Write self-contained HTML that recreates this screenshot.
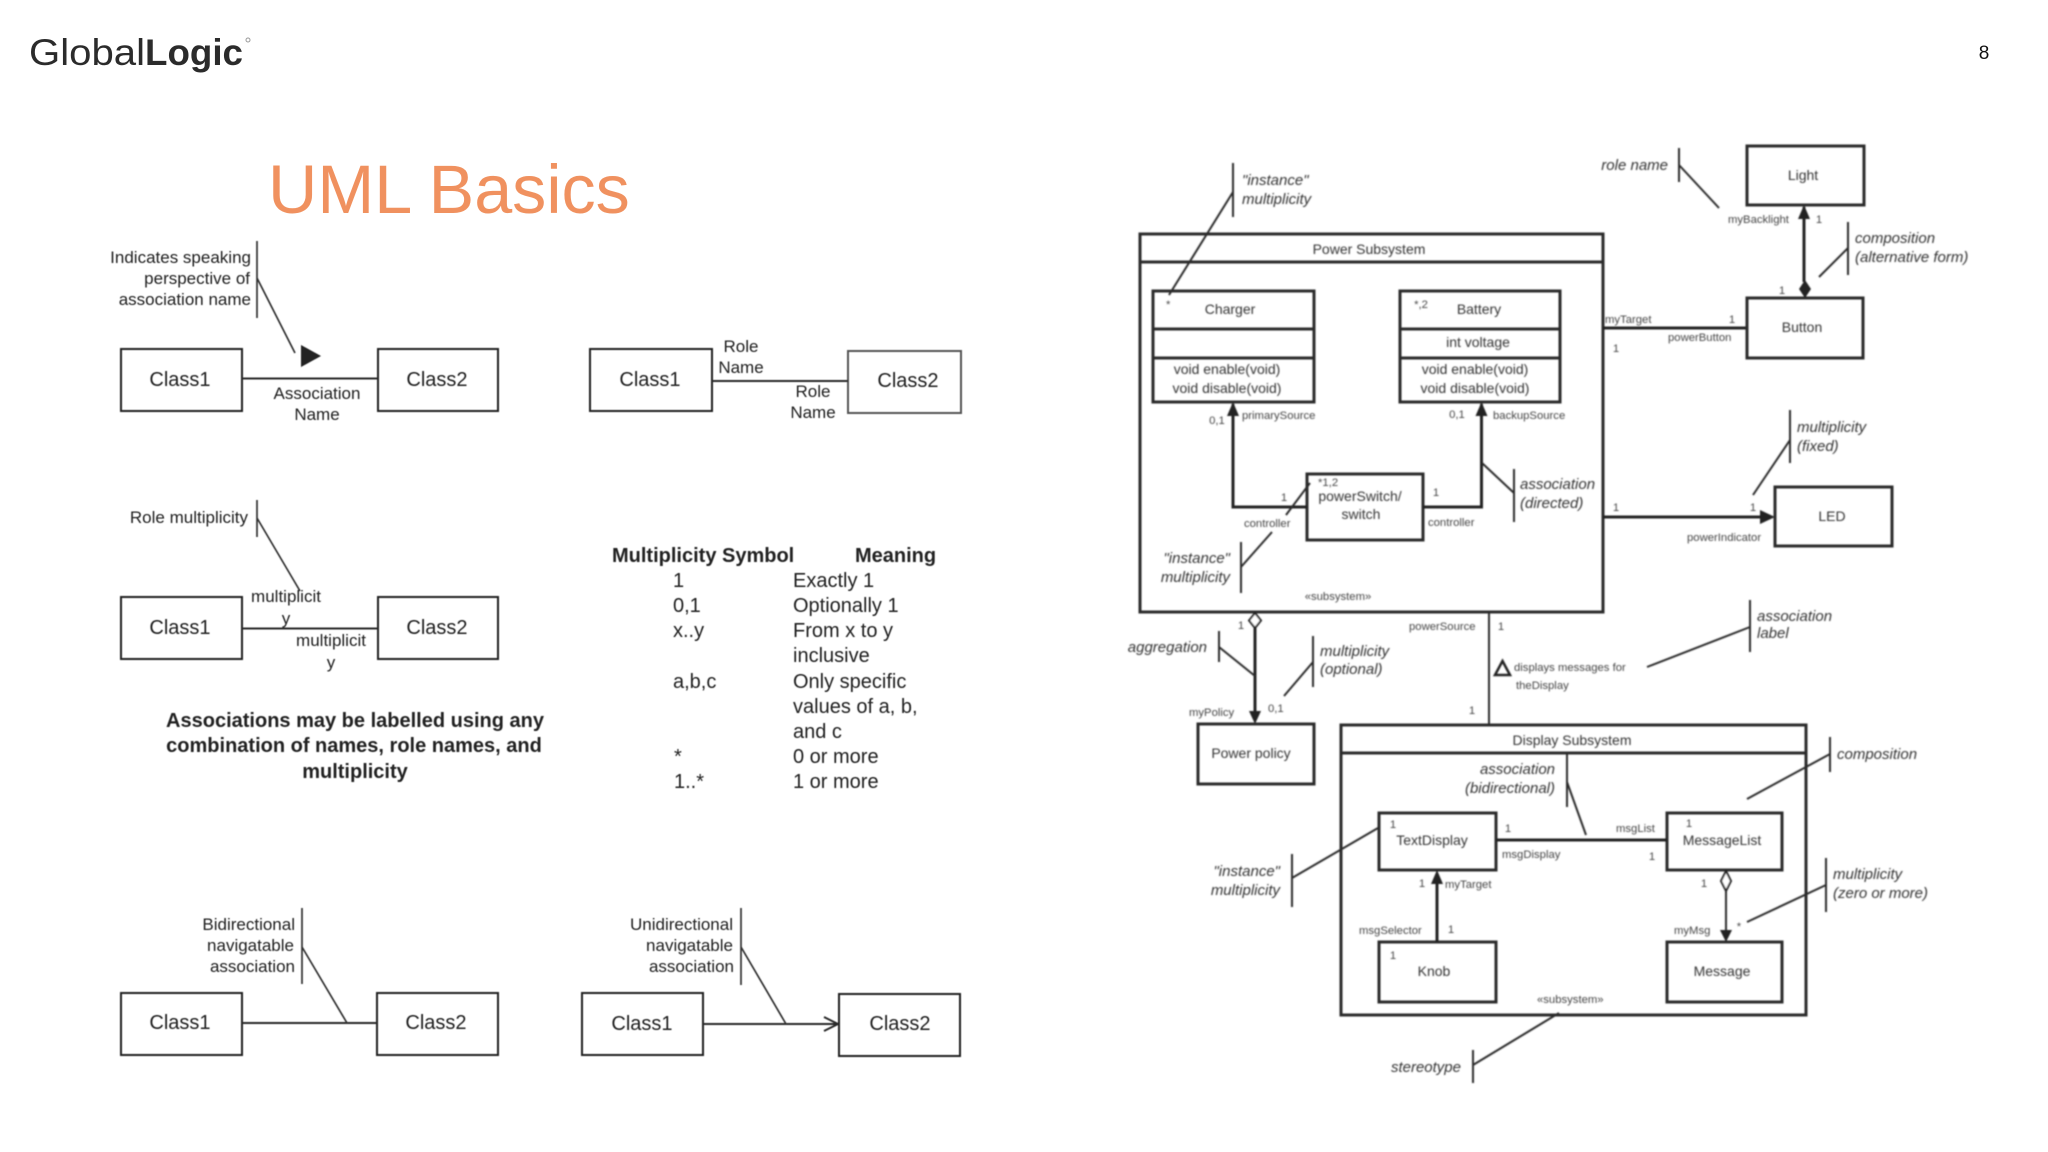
<!DOCTYPE html>
<html lang="en">
<head>
<meta charset="utf-8">
<title>UML Basics</title>
<style>
html,body{margin:0;padding:0;background:#fff;width:2048px;height:1152px;overflow:hidden}
svg{display:block}
text{font-family:"Liberation Sans",sans-serif;fill:#222}
.m{text-anchor:middle}.e{text-anchor:end}
.a{font-size:17px}.c{font-size:20px}.b{font-size:20px;font-weight:bold}
.n{font-size:14px;fill:#333}.s{font-size:11.3px;fill:#444}.i{font-size:15px;font-style:italic;fill:#333}
.bx{fill:none;stroke:#222;stroke-width:2}
.rb{fill:none;stroke:#2a2a2a;stroke-width:3}
.l{fill:none;stroke:#2a2a2a;stroke-width:2}
.t{fill:none;stroke:#333;stroke-width:1.7}
.h{fill:none;stroke:#222;stroke-width:3}
</style>
</head>
<body>
<svg width="2048" height="1152" viewBox="0 0 2048 1152" xmlns="http://www.w3.org/2000/svg">
<defs>
<filter id="f1" filterUnits="userSpaceOnUse" x="0" y="0" width="2048" height="1152"><feGaussianBlur stdDeviation="0.45"/></filter>
<filter id="f2" filterUnits="userSpaceOnUse" x="0" y="0" width="2048" height="1152"><feGaussianBlur stdDeviation="0.7"/></filter>
</defs>
<rect width="2048" height="1152" fill="#fff"/>

<!-- Header -->
<text x="29" y="65" font-size="37" textLength="116" lengthAdjust="spacingAndGlyphs" style="fill:#2b2b2b">Global</text>
<text x="145" y="65" font-size="37" font-weight="bold" textLength="98" lengthAdjust="spacingAndGlyphs" style="fill:#2b2b2b">Logic</text>
<circle cx="248" cy="40" r="2" fill="none" stroke="#999" stroke-width="1"/>
<text x="1984" y="59" font-size="19" class="m" style="fill:#111">8</text>
<text x="268" y="213" font-size="68.300" style="fill:#f0915f">UML Basics</text>

<!-- Left diagrams -->
<g filter="url(#f1)">
<rect class="bx" x="121" y="349" width="121" height="62"/>
<rect class="bx" x="378" y="349" width="120" height="62"/>
<path class="l" d="M242 378.500H378"/>
<text class="c m" x="180" y="386">Class1</text>
<text class="c m" x="437" y="386">Class2</text>
<path d="M301 345L321 356L301 367Z" fill="#222"/>
<path class="t" d="M257 241V318M257 278L295 353"/>
<text class="a e" x="251" y="263">Indicates speaking</text>
<text class="a e" x="250" y="284">perspective of</text>
<text class="a e" x="251" y="305">association name</text>
<text class="a m" x="317" y="399">Association</text>
<text class="a m" x="317" y="420">Name</text>

<rect class="bx" x="590" y="349" width="122" height="62"/>
<rect class="bx" x="848" y="351" width="113" height="62" style="stroke:#555"/>
<path class="l" d="M712 381H848"/>
<text class="c m" x="650" y="386">Class1</text>
<text class="c m" x="908" y="387">Class2</text>
<text class="a m" x="741" y="352">Role</text>
<text class="a m" x="741" y="373">Name</text>
<text class="a m" x="813" y="397">Role</text>
<text class="a m" x="813" y="418">Name</text>

<path class="t" d="M257 500V537M257 518L300 591"/>
<text class="a e" x="248" y="523">Role multiplicity</text>
<rect class="bx" x="121" y="597" width="121" height="62"/>
<rect class="bx" x="378" y="597" width="120" height="62"/>
<path class="l" d="M242 628.500H378"/>
<text class="c m" x="180" y="634">Class1</text>
<text class="c m" x="437" y="634">Class2</text>
<text class="a m" x="286" y="602">multiplicit</text>
<text class="a m" x="286" y="624">y</text>
<text class="a m" x="331" y="646">multiplicit</text>
<text class="a m" x="331" y="668">y</text>

<text class="b m" x="355" y="727">Associations may be labelled using any</text>
<text class="b m" x="354" y="752">combination of names, role names, and</text>
<text class="b m" x="355" y="778">multiplicity</text>

<text class="b" x="612" y="562">Multiplicity Symbol</text>
<text class="b" x="855" y="562">Meaning</text>
<text class="c" x="673" y="587">1</text><text class="c" x="793" y="587">Exactly 1</text>
<text class="c" x="673" y="612">0,1</text><text class="c" x="793" y="612">Optionally 1</text>
<text class="c" x="673" y="637">x..y</text><text class="c" x="793" y="637">From x to y</text>
<text class="c" x="793" y="662">inclusive</text>
<text class="c" x="673" y="688">a,b,c</text><text class="c" x="793" y="688">Only specific</text>
<text class="c" x="793" y="713">values of a, b,</text>
<text class="c" x="793" y="738">and c</text>
<text class="c" x="674" y="763">*</text><text class="c" x="793" y="763">0 or more</text>
<text class="c" x="674" y="788">1..*</text><text class="c" x="793" y="788">1 or more</text>

<rect class="bx" x="121" y="993" width="121" height="62"/>
<rect class="bx" x="377" y="993" width="121" height="62"/>
<path class="l" d="M242 1023H377"/>
<text class="c m" x="180" y="1029">Class1</text>
<text class="c m" x="436" y="1029">Class2</text>
<path class="t" d="M302 908V984M302 947L347 1023"/>
<text class="a e" x="295" y="930">Bidirectional</text>
<text class="a e" x="294" y="951">navigatable</text>
<text class="a e" x="295" y="972">association</text>

<rect class="bx" x="582" y="993" width="121" height="62"/>
<rect class="bx" x="839" y="994" width="121" height="62"/>
<path class="l" d="M703 1024H838M824 1017L838 1024L824 1031"/>
<text class="c m" x="642" y="1030">Class1</text>
<text class="c m" x="900" y="1030">Class2</text>
<path class="t" d="M741 908V985M741 947L786 1024"/>
<text class="a e" x="733" y="930">Unidirectional</text>
<text class="a e" x="733" y="951">navigatable</text>
<text class="a e" x="734" y="972">association</text>
</g>

<!-- Right diagram -->
<g filter="url(#f2)">
<!-- Power Subsystem -->
<rect class="rb" x="1140" y="234" width="463" height="378"/>
<path class="rb" d="M1140 262H1603"/>
<text class="n m" x="1369" y="254">Power Subsystem</text>

<rect class="rb" x="1153" y="291" width="161" height="111"/>
<path class="rb" d="M1153 329H1314M1153 358H1314"/>
<text class="n m" x="1230" y="314">Charger</text>
<text class="n m" x="1227" y="374">void enable(void)</text>
<text class="n m" x="1227" y="393">void disable(void)</text>
<text class="s" x="1166" y="308">*</text>

<rect class="rb" x="1400" y="291" width="160" height="111"/>
<path class="rb" d="M1400 329H1560M1400 358H1560"/>
<text class="n m" x="1479" y="314">Battery</text>
<text class="n m" x="1478" y="347">int voltage</text>
<text class="n m" x="1475" y="374">void enable(void)</text>
<text class="n m" x="1475" y="393">void disable(void)</text>
<text class="s m" x="1421" y="308">*,2</text>

<rect class="rb" x="1307" y="474" width="116" height="66"/>
<text class="n m" x="1360" y="501">powerSwitch/</text>
<text class="n m" x="1361" y="519">switch</text>
<text class="s" x="1318" y="486">*1,2</text>

<path class="h" d="M1307 507H1233V404M1423 507H1481.500V404"/>
<path d="M1233 402L1227 416H1239Z" fill="#222"/>
<path d="M1481.500 402L1475.500 416H1487.500Z" fill="#222"/>
<text class="s" x="1242" y="419">primarySource</text>
<text class="s m" x="1217" y="424">0,1</text>
<text class="s m" x="1457" y="418">0,1</text>
<text class="s" x="1493" y="419">backupSource</text>
<text class="s m" x="1284" y="501">1</text>
<text class="s m" x="1436" y="496">1</text>
<text class="s" x="1244" y="527">controller</text>
<text class="s" x="1428" y="526">controller</text>
<text class="s m" x="1338" y="600">«subsystem»</text>

<path class="l" d="M1514 469V522M1514 493L1482 463"/>
<text class="i" x="1520" y="489">association</text>
<text class="i" x="1520" y="508">(directed)</text>

<path class="l" d="M1233 163V217M1233 192L1169 295"/>
<text class="i" x="1242" y="185">"instance"</text>
<text class="i" x="1242" y="204">multiplicity</text>

<path class="l" d="M1241 542V593M1241 567L1272 532M1286 515L1310 483"/>
<text class="i e" x="1230" y="563">"instance"</text>
<text class="i e" x="1230" y="582">multiplicity</text>

<!-- Power subsystem to Button / LED -->
<path class="h" d="M1603 328H1747"/>
<text class="s" x="1605" y="323">myTarget</text>
<text class="s m" x="1616" y="352">1</text>
<text class="s m" x="1732" y="323">1</text>
<text class="s" x="1668" y="341">powerButton</text>

<path class="h" d="M1603 517H1762"/>
<path d="M1775 517L1760 510V524Z" fill="#222"/>
<text class="s m" x="1616" y="511">1</text>
<text class="s m" x="1753" y="511">1</text>
<text class="s" x="1687" y="541">powerIndicator</text>

<!-- Light / Button -->
<rect class="rb" x="1747" y="146" width="117" height="59"/>
<text class="n m" x="1803" y="180">Light</text>
<rect class="rb" x="1747" y="298" width="116" height="60"/>
<text class="n m" x="1802" y="332">Button</text>
<path class="h" d="M1804 207V282"/>
<path d="M1804 205L1798 219H1810Z" fill="#222"/>
<path d="M1805 280L1811 289L1805 298L1799 289Z" fill="#222"/>
<text class="s" x="1728" y="223">myBacklight</text>
<text class="s m" x="1819" y="223">1</text>
<text class="s m" x="1782" y="294">1</text>

<path class="l" d="M1848 222V275M1848 248L1819 277"/>
<text class="i" x="1855" y="243">composition</text>
<text class="i" x="1855" y="262">(alternative form)</text>

<path class="l" d="M1679 148V182M1679 165L1719 208"/>
<text class="i e" x="1668" y="170">role name</text>

<path class="l" d="M1790 410V463M1790 440L1753 495"/>
<text class="i" x="1797" y="432">multiplicity</text>
<text class="i" x="1797" y="451">(fixed)</text>

<rect class="rb" x="1775" y="487" width="117" height="59"/>
<text class="n m" x="1832" y="521">LED</text>

<!-- Aggregation / Power policy -->
<path class="h" d="M1255 628V712"/>
<path d="M1255 613L1261 620.500L1255 628L1249 620.500Z" fill="#fff" stroke="#222" stroke-width="2"/>
<path d="M1255 724L1249 711H1261Z" fill="#222"/>
<text class="s m" x="1241" y="629">1</text>
<path class="l" d="M1219 631V662M1219 647L1255 676"/>
<text class="i e" x="1207" y="652">aggregation</text>
<path class="l" d="M1313 636V687M1313 662L1284 696"/>
<text class="i" x="1320" y="656">multiplicity</text>
<text class="i" x="1320" y="674">(optional)</text>
<text class="s" x="1189" y="716">myPolicy</text>
<text class="s" x="1268" y="712">0,1</text>
<rect class="rb" x="1198" y="724" width="116" height="60"/>
<text class="n m" x="1251" y="758">Power policy</text>

<!-- Power to Display link -->
<path class="l" d="M1489 612V725"/>
<text class="s" x="1409" y="630">powerSource</text>
<text class="s m" x="1501" y="630">1</text>
<text class="s m" x="1472" y="714">1</text>
<path d="M1502.500 661L1510 675H1495Z" fill="none" stroke="#222" stroke-width="2.500"/>
<text class="s" x="1514" y="671">displays messages for</text>
<text class="s" x="1516" y="689">theDisplay</text>
<path class="l" d="M1750 600V652M1750 627L1647 667"/>
<text class="i" x="1757" y="621">association</text>
<text class="i" x="1757" y="638">label</text>

<!-- Display Subsystem -->
<rect class="rb" x="1341" y="725" width="465" height="290"/>
<path class="rb" d="M1341 753H1806"/>
<text class="n m" x="1572" y="745">Display Subsystem</text>
<path class="l" d="M1567 753V807M1567 782L1586 835"/>
<text class="i e" x="1555" y="774">association</text>
<text class="i e" x="1555" y="793">(bidirectional)</text>

<rect class="rb" x="1379" y="813" width="117" height="57"/>
<text class="n m" x="1432" y="845">TextDisplay</text>
<text class="s m" x="1393" y="828">1</text>
<rect class="rb" x="1667" y="813" width="115" height="57"/>
<text class="n m" x="1722" y="845">MessageList</text>
<text class="s m" x="1689" y="827">1</text>
<rect class="rb" x="1379" y="942" width="117" height="60"/>
<text class="n m" x="1434" y="976">Knob</text>
<text class="s m" x="1393" y="959">1</text>
<rect class="rb" x="1667" y="942" width="115" height="60"/>
<text class="n m" x="1722" y="976">Message</text>

<path class="h" d="M1496 840H1667"/>
<text class="s m" x="1508" y="832">1</text>
<text class="s" x="1502" y="858">msgDisplay</text>
<text class="s" x="1616" y="832">msgList</text>
<text class="s m" x="1652" y="860">1</text>

<path class="h" d="M1437 942V880"/>
<path d="M1437 870L1431 884H1443Z" fill="#222"/>
<text class="s m" x="1422" y="887">1</text>
<text class="s" x="1445" y="888">myTarget</text>
<text class="s" x="1359" y="934">msgSelector</text>
<text class="s m" x="1451" y="933">1</text>

<path class="l" d="M1726 890V932"/>
<path d="M1726 871L1731 881L1726 891L1721 881Z" fill="#fff" stroke="#222" stroke-width="2"/>
<path d="M1726 942L1720 930H1732Z" fill="#222"/>
<text class="s m" x="1704" y="887">1</text>
<text class="s" x="1674" y="934">myMsg</text>
<text class="s m" x="1739" y="930">*</text>
<text class="s" x="1537" y="1003">«subsystem»</text>

<path class="l" d="M1292 854V907M1292 878L1378 828"/>
<text class="i e" x="1280" y="876">"instance"</text>
<text class="i e" x="1280" y="895">multiplicity</text>
<path class="l" d="M1473 1050V1083M1473 1065L1559 1013"/>
<text class="i e" x="1461" y="1072">stereotype</text>
<path class="l" d="M1830 737V772M1830 754L1747 799"/>
<text class="i" x="1837" y="759">composition</text>
<path class="l" d="M1826 858V912M1826 885L1747 922"/>
<text class="i" x="1833" y="879">multiplicity</text>
<text class="i" x="1833" y="898">(zero or more)</text>
</g>
</svg>
</body>
</html>
